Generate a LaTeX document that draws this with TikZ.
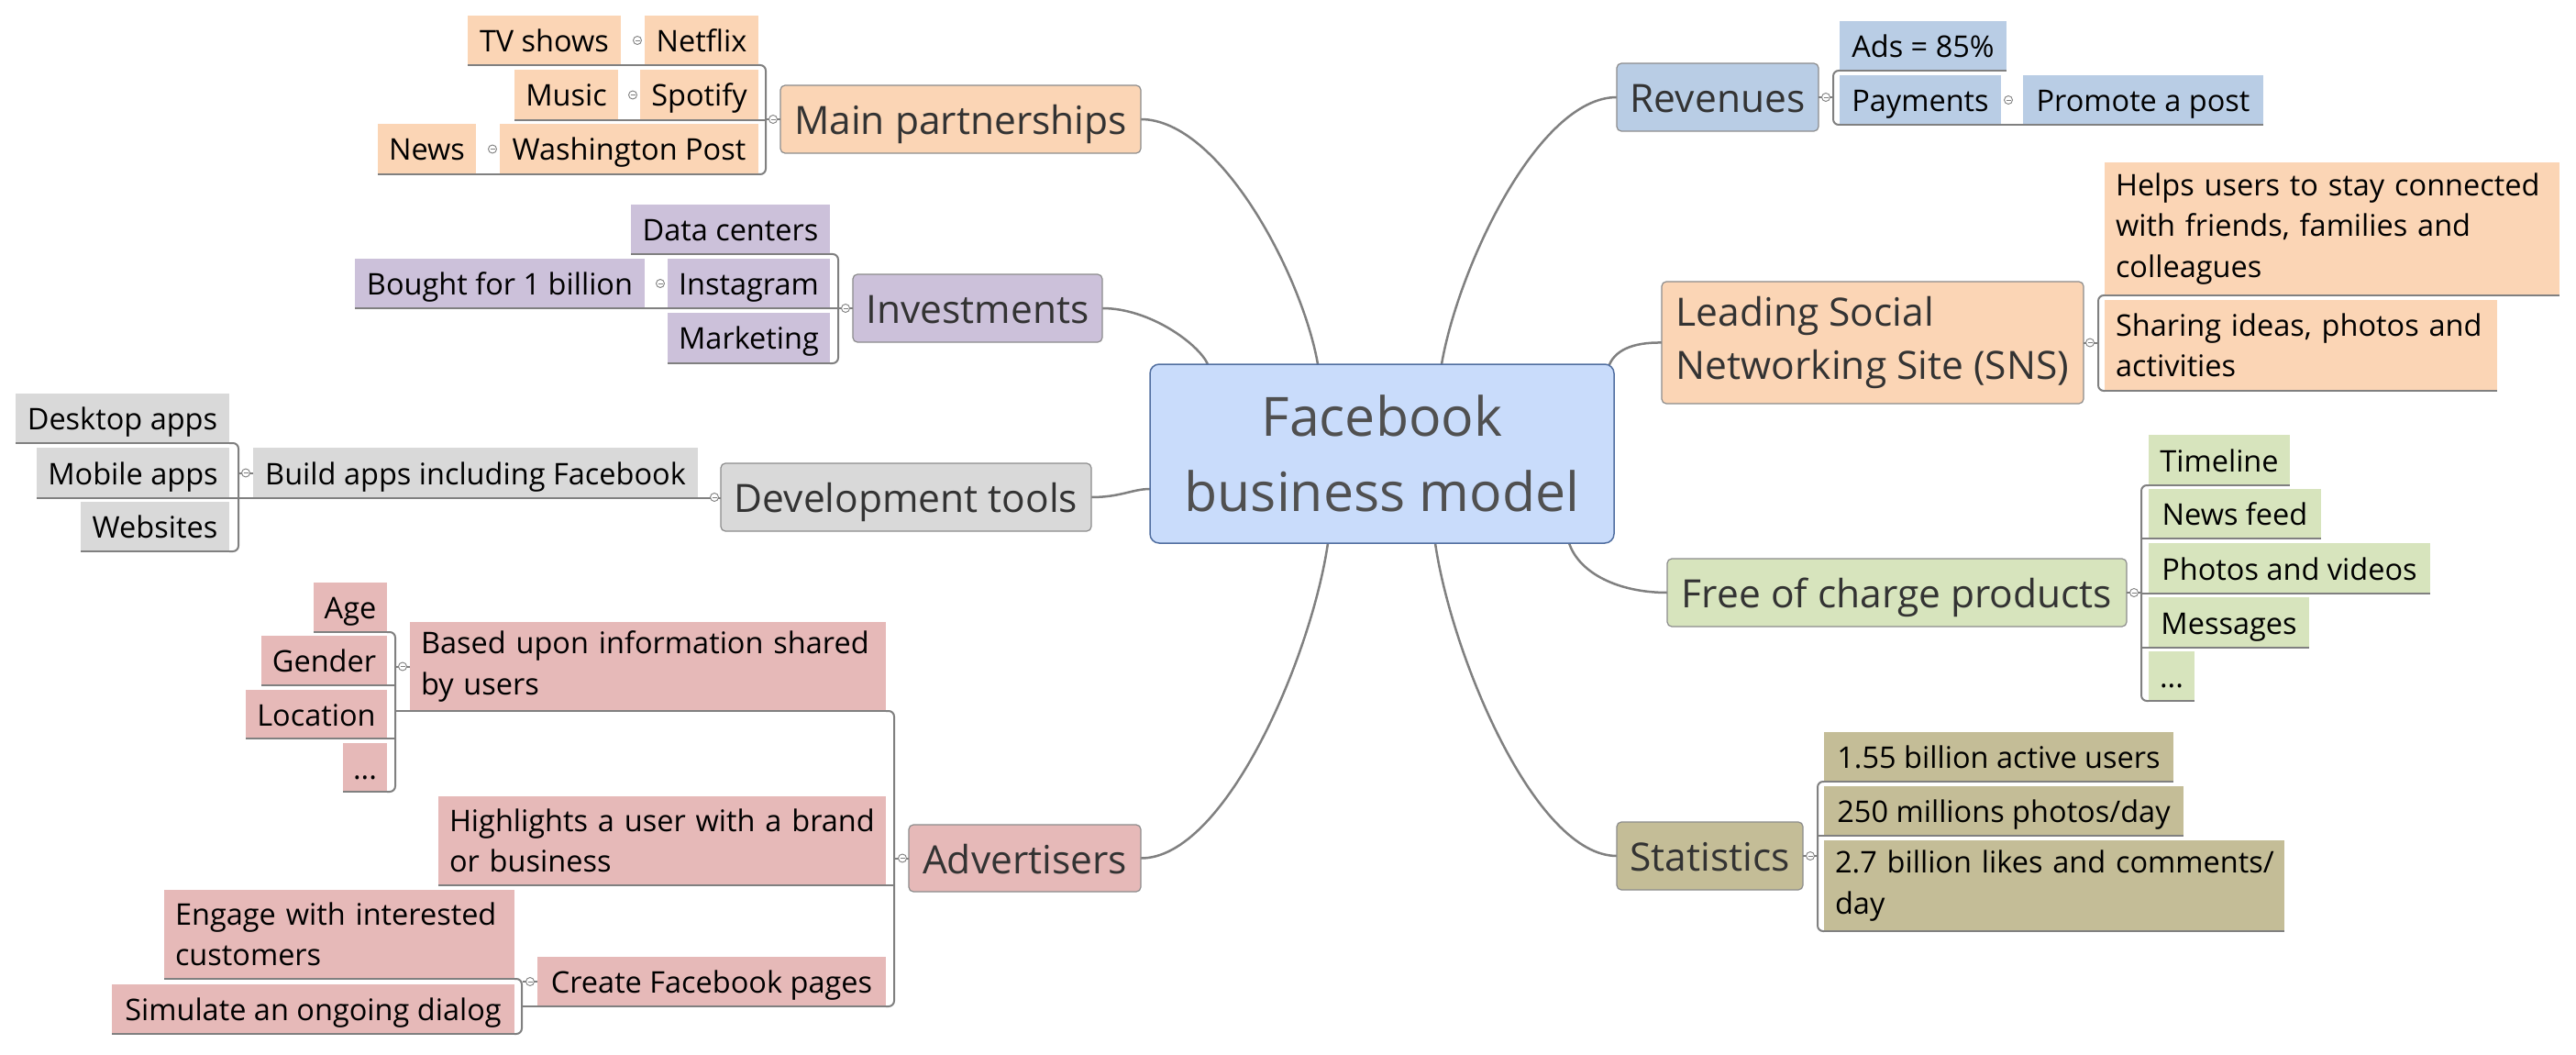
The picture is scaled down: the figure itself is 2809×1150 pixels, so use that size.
\documentclass[tikz,border=0pt]{standalone}
\usepackage{fontspec}
\setmainfont{Open Sans}
\usetikzlibrary{calc,backgrounds}
\definecolor{cPeach}{RGB}{251,213,181}
\definecolor{cBlue}{RGB}{185,205,229}
\definecolor{cPurple}{RGB}{204,193,218}
\definecolor{cGrey}{RGB}{217,217,217}
\definecolor{cPink}{RGB}{230,185,184}
\definecolor{cGreen}{RGB}{215,228,189}
\definecolor{cKhaki}{RGB}{196,189,151}
\definecolor{cCenter}{RGB}{201,220,251}
\definecolor{cCenterB}{RGB}{80,110,160}
\definecolor{cLine}{RGB}{128,128,128}
\definecolor{cTopicB}{RGB}{140,140,140}
\definecolor{cMainTxt}{RGB}{51,51,51}
\definecolor{cCenterTxt}{RGB}{80,80,80}
\tikzset{
  nbase/.style={anchor=north west, inner sep=0pt, outer sep=0pt},
  subs/.style={nbase, text=black, font=\fontsize{32.5}{44.5}\selectfont, text height=29pt, text depth=4pt},
  subm/.style={nbase, text=black, font=\fontsize{32.5}{44.5}\selectfont, align=left, inner xsep=12pt},
  tbase/.style={nbase, text=cMainTxt, draw=cTopicB, line width=1.2pt, rounded corners=5pt, font=\fontsize{42.5}{58}\selectfont},
  topic/.style={tbase, text height=39pt, text depth=6pt},
  topicm/.style={tbase, align=left},
  centre/.style={nbase, fill=cCenter, draw=cCenterB, line width=1.5pt, rounded corners=10pt, text=cCenterTxt, font=\fontsize{59}{82}\selectfont, align=center},
  br/.style={draw=cLine, line width=2pt, rounded corners=6pt},
  ul/.style={draw=cLine, line width=2.5pt},
  mc/.style={draw=cLine, line width=2.5pt},
  tog/.style={circle, draw=cLine, fill=white, line width=0.9pt, minimum size=9pt, inner sep=0pt,
    path picture={\draw[cLine, line width=0.7pt] ([xshift=2pt]path picture bounding box.west) -- ([xshift=-2pt]path picture bounding box.east);}}
}
\begin{document}
\begin{tikzpicture}[x=1pt,y=-1pt]
\useasboundingbox (0,0) rectangle (2809,1150);
% centre
\node[centre, minimum width=506pt, minimum height=195pt] (C) at (1254,397) {Facebook\\business model};
% main topics
\node[topic, fill=cPeach, minimum width=393pt, minimum height=74pt] (MP) at (851,93) {Main partnerships};
\node[topic, fill=cPurple, minimum width=272pt, minimum height=74pt] (INV) at (930,299) {Investments};
\node[topic, fill=cGrey, minimum width=404pt, minimum height=74pt] (DEV) at (786,505) {Development tools};
\node[topic, fill=cPink, minimum width=253pt, minimum height=73pt] (ADV) at (991,899) {Advertisers};
\node[topic, fill=cBlue, minimum width=220pt, minimum height=74pt] (REV) at (1763,69) {Revenues};
\node[topicm, fill=cPeach, minimum width=460pt, minimum height=133pt] (SNS) at (1812,307) {Leading Social\\Networking Site (SNS)};
\node[topic, fill=cGreen, minimum width=501pt, minimum height=74pt] (FREE) at (1818,609) {Free of charge products};
\node[topic, fill=cKhaki, minimum width=203pt, minimum height=74pt] (STAT) at (1763,896) {Statistics};
% main partnerships
\node[subs, fill=cPeach, minimum width=124pt, minimum height=54pt] (net) at (703,17) {Netflix};
\node[subs, fill=cPeach, minimum width=167pt, minimum height=54pt] (tv) at (510,17) {TV shows};
\node[subs, fill=cPeach, minimum width=129pt, minimum height=55pt] (spot) at (698,76) {Spotify};
\node[subs, fill=cPeach, minimum width=113pt, minimum height=55pt] (mus) at (561,76) {Music};
\node[subs, fill=cPeach, minimum width=282pt, minimum height=55pt] (wp) at (545,135) {Washington Post};
\node[subs, fill=cPeach, minimum width=107pt, minimum height=55pt] (news) at (412,135) {News};
% investments
\node[subs, fill=cPurple, minimum width=217pt, minimum height=54pt] (dc) at (688,223) {Data centers};
\node[subs, fill=cPurple, minimum width=177pt, minimum height=54pt] (ins) at (728,282) {Instagram};
\node[subs, fill=cPurple, minimum width=316pt, minimum height=54pt] (bought) at (387,282) {Bought for 1 billion};
\node[subs, fill=cPurple, minimum width=177pt, minimum height=55pt] (mkt) at (728,341) {Marketing};
% development tools
\node[subs, fill=cGrey, minimum width=485pt, minimum height=55pt] (build) at (276,488) {Build apps including Facebook};
\node[subs, fill=cGrey, minimum width=233pt, minimum height=54pt] (desk) at (17,429) {Desktop apps};
\node[subs, fill=cGrey, minimum width=210pt, minimum height=55pt] (mob) at (40,488) {Mobile apps};
\node[subs, fill=cGrey, minimum width=162pt, minimum height=54pt] (web) at (88,547) {Websites};
% advertisers
\node[subm, fill=cPink, text width=495pt, minimum height=97pt] (based) at (447,678) {\mbox{Based upon information shared}\\\mbox{by users}};
\node[subs, fill=cPink, minimum width=80pt, minimum height=54pt] (age) at (342,635) {Age};
\node[subs, fill=cPink, minimum width=137pt, minimum height=54pt] (gen) at (285,693) {Gender};
\node[subs, fill=cPink, minimum width=154pt, minimum height=53pt] (loc) at (268,752) {Location};
\node[subs, fill=cPink, minimum width=48pt, minimum height=53pt] (dotsa) at (374,810) {...};
\node[subm, fill=cPink, text width=464pt, minimum height=97pt] (high) at (478,868) {\mbox{Highlights a user with a brand}\\\mbox{or business}};
\node[subs, fill=cPink, minimum width=380pt, minimum height=54pt] (create) at (586,1043) {Create Facebook pages};
\node[subm, fill=cPink, text width=358pt, minimum height=97pt] (eng) at (179,970) {\mbox{Engage with interested}\\\mbox{customers}};
\node[subs, fill=cPink, minimum width=439pt, minimum height=54pt] (sim) at (122,1073) {Simulate an ongoing dialog};
% revenues
\node[subs, fill=cBlue, minimum width=182pt, minimum height=54pt] (ads) at (2006,23) {Ads = 85\%};
\node[subs, fill=cBlue, minimum width=176pt, minimum height=54pt] (pay) at (2006,82) {Payments};
\node[subs, fill=cBlue, minimum width=262pt, minimum height=54pt] (prom) at (2206,82) {Promote a post};
% SNS
\node[subm, fill=cPeach, text width=472pt, minimum height=145pt] (helps) at (2295,177) {\mbox{Helps users to stay connected}\\\mbox{with friends, families and}\\\mbox{colleagues}};
\node[subm, fill=cPeach, text width=404pt, minimum height=99pt] (share) at (2295,327) {\mbox{Sharing ideas, photos and}\\\mbox{activities}};
% free products
\node[subs, fill=cGreen, minimum width=154pt, minimum height=55pt] (tl) at (2343,474) {Timeline};
\node[subs, fill=cGreen, minimum width=188pt, minimum height=54pt] (nf) at (2343,533) {News feed};
\node[subs, fill=cGreen, minimum width=307pt, minimum height=55pt] (pv) at (2343,592) {Photos and videos};
\node[subs, fill=cGreen, minimum width=175pt, minimum height=55pt] (msg) at (2343,651) {Messages};
\node[subs, fill=cGreen, minimum width=50pt, minimum height=54pt] (dotsb) at (2343,710) {...};
% statistics
\node[subs, fill=cKhaki, minimum width=381pt, minimum height=54pt] (sa) at (1989,798) {1.55 billion active users};
\node[subs, fill=cKhaki, minimum width=392pt, minimum height=54pt] (sb) at (1989,857) {250 millions photos/day};
\node[subm, fill=cKhaki, text width=478pt, minimum height=99pt] (sc) at (1989,916) {\mbox{2.7 billion likes and comments/}\\\mbox{day}};

% main curves
\begin{scope}[on background layer]
\draw[mc] (MP.east) .. controls (1330,130) and (1420,300) .. ($(C.north west)+(183,0)$);
\draw[mc] (INV.east) .. controls (1254,336) and (1307,375) .. ($(C.north west)+(63,0)$);
\draw[mc] (DEV.east) .. controls (1222,542) and (1235,533) .. ($(C.north west)+(0,136)$);
\draw[mc] (ADV.east) .. controls (1336,936) and (1430,716) .. ($(C.south west)+(194,0)$);
\draw[mc] (REV.west) .. controls (1677,106) and (1590,292) .. ($(C.north west)+(318,0)$);
\draw[mc] (SNS.west) .. controls (1780,373) and (1760,382) .. ($(C.north east)+(-6,3)$);
\draw[mc] (FREE.west) .. controls (1765,646) and (1722,625) .. ($(C.south east)+(-49,0)$);
\draw[mc] (STAT.west) .. controls (1674,933) and (1583,715) .. ($(C.south west)+(311,0)$);
\end{scope}

% underlines
\foreach \n in {net,tv,spot,mus,wp,news,dc,ins,bought,mkt,build,desk,mob,web,based,age,gen,loc,dotsa,high,create,eng,sim,ads,pay,prom,helps,share,tl,nf,pv,msg,dotsb,sa,sb,sc}
  \draw[ul] (\n.south west) -- (\n.south east);
% single-child links (continuous underline)
\draw[ul] (tv.south east) -- (net.south west);
\draw[ul] (mus.south east) -- (spot.south west);
\draw[ul] (news.south east) -- (wp.south west);
\draw[ul] (bought.south east) -- (ins.south west);
\draw[ul] (pay.south east) -- (prom.south west);
\draw[ul] (build.south east) -- (build.south east -| DEV.west);
\draw[ul] (build.south west) -- ++(-16,0);
\draw[ul] (based.south west) -- ++(-16,0);
\draw[ul] (create.south west) -- ++(-16,0);

% brackets: main partnerships
\draw[br] (MP.west) -- ++(-16,0);
\draw[br] (net.south east) -| ($(wp.south east)+(8,0)$) -- (wp.south east);
\draw[br] (spot.south east) -- ++(8,0);
% investments
\draw[br] (INV.west) -- ++(-16,0);
\draw[br] (dc.south east) -| ($(mkt.south east)+(9,0)$) -- (mkt.south east);
\draw[br] (ins.south east) -- ++(9,0);
% build apps
\draw[br] (desk.south east) -| ($(web.south east)+(10,0)$) -- (web.south east);
\draw[br] (mob.south east) -- ++(10,0);
\draw[br] (build.west) -- ++(-16,0);
% advertisers
\draw[br] (ADV.west) -- ++(-16,0);
\draw[br] (based.south east) -| ($(create.south east)+(9,0)$) -- (create.south east);
\draw[br] (high.south east) -- ++(9,0);
% based upon
\draw[br] (based.west) -- ++(-16,0);
\draw[br] (age.south east) -| ($(dotsa.south east)+(9,0)$) -- (dotsa.south east);
\draw[br] (gen.south east) -- ++(9,0);
\draw[br] (loc.south east) -- ++(9,0);
% create pages
\draw[br] (create.west) -- ++(-16,0);
\draw[br] (eng.south east) -| ($(sim.south east)+(8,0)$) -- (sim.south east);
% revenues
\draw[br] (REV.east) -- ++(16,0);
\draw[br] (ads.south west) -| ($(pay.south west)+(-7,0)$) -- (pay.south west);
% SNS
\draw[br] (SNS.east) -- ++(16,0);
\draw[br] (helps.south west) -| ($(share.south west)+(-7,0)$) -- (share.south west);
% free
\draw[br] (FREE.east) -- ++(16,0);
\draw[br] (tl.south west) -| ($(dotsb.south west)+(-8,0)$) -- (dotsb.south west);
\draw[br] (nf.south west) -- ++(-8,0);
\draw[br] (pv.south west) -- ++(-8,0);
\draw[br] (msg.south west) -- ++(-8,0);
% statistics
\draw[br] (STAT.east) -- ++(16,0);
\draw[br] (sa.south west) -| ($(sc.south west)+(-7,0)$) -- (sc.south west);
\draw[br] (sb.south west) -- ++(-7,0);

% toggles
\node[tog] (t1) at ($(MP.west)+(-8,0)$) {};
\node[tog] (t2) at ($(INV.west)+(-8,0)$) {};
\node[tog] (t3) at ($(DEV.west)+(-7,0)$) {};
\node[tog] (t4) at ($(ADV.west)+(-7,0)$) {};
\node[tog] (t5) at ($(net.west)+(-8,0)$) {};
\node[tog] (t6) at ($(spot.west)+(-8,0)$) {};
\node[tog] (t7) at ($(wp.west)+(-8,0)$) {};
\node[tog] (t8) at ($(ins.west)+(-8,0)$) {};
\node[tog] (t9) at ($(build.west)+(-8,0)$) {};
\node[tog] (t10) at ($(based.west)+(-8,0)$) {};
\node[tog] (t11) at ($(create.west)+(-8,0)$) {};
\node[tog] (t12) at ($(REV.east)+(8,0)$) {};
\node[tog] (t13) at ($(pay.east)+(8,0)$) {};
\node[tog] (t14) at ($(SNS.east)+(7,0)$) {};
\node[tog] (t15) at ($(FREE.east)+(8,0)$) {};
\node[tog] (t16) at ($(STAT.east)+(8,0)$) {};
\end{tikzpicture}
\end{document}
